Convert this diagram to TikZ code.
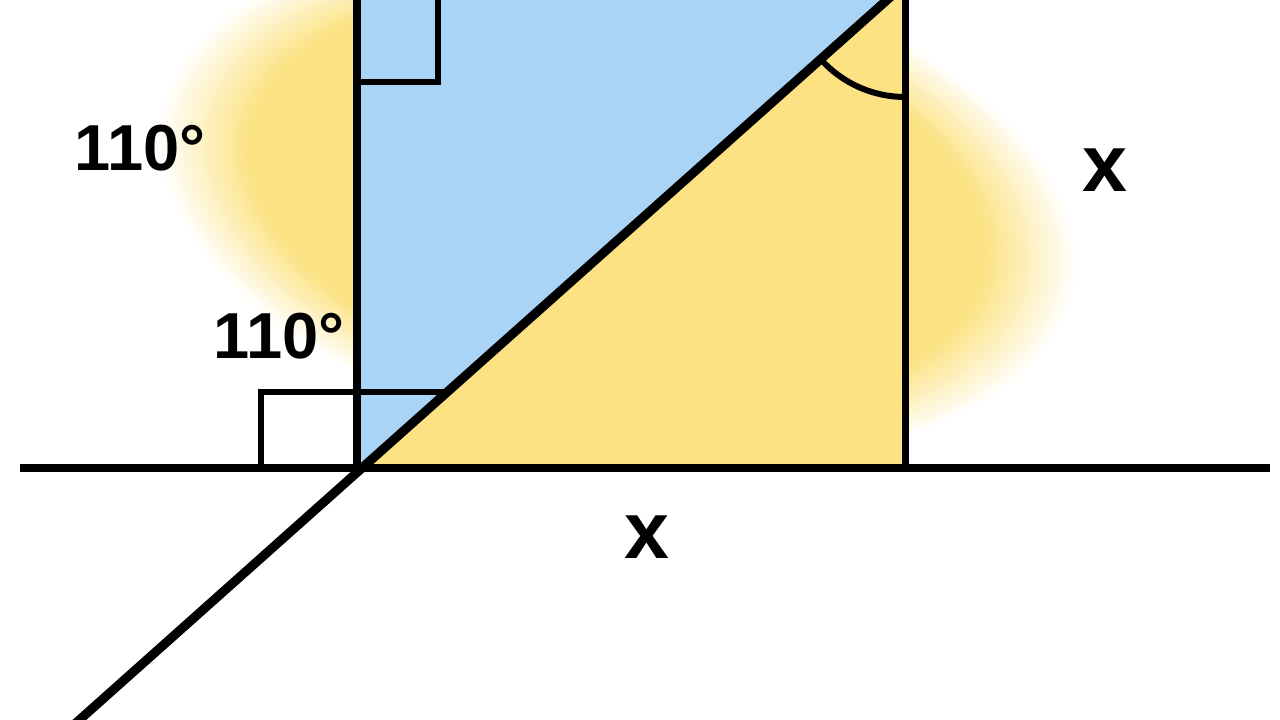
\documentclass[tikz,border=0pt]{standalone}
\usepackage{fontspec}
\setmainfont{Liberation Sans}
\usetikzlibrary{calc}

\definecolor{skyblue}{HTML}{AAD4F6}
\definecolor{sunyellow}{HTML}{FCE282}
\pgfdeclareradialshading{glow}{\pgfpoint{0bp}{0bp}}{color(0bp)=(sunyellow); color(19.5bp)=(sunyellow); color(24.5bp)=(white); color(50bp)=(white)}

\begin{document}
\begin{tikzpicture}[
    anglabel/.style={font=\bfseries\fontsize{18.5}{20}\selectfont, inner sep=0pt},
    sidelabel/.style={font=\bfseries\fontsize{23}{25}\selectfont, inner sep=0pt}
  ]

            \useasboundingbox (0,0) rectangle (12.8,7.2);
            \clip (0,0) rectangle (12.8,7.2);

            %glow
            \begin{scope}[transform canvas={rotate around={-11:(6.17,5.2)}}]
              \shade[shading=glow] (6.17,5.2) ellipse (4.75 and 2.55);
            \end{scope}

            \coordinate (O) at (3.62,2.52);
            \coordinate (T) at (8.87,7.2);

            % Blue part and yellow triangle:
            \fill[skyblue] (3.57,2.52) -- (O) -- (T) -- (3.57,7.3) -- cycle;
            \fill[sunyellow] (O) -- (9.05,2.52) -- (9.05,7.3) -- (T) -- cycle;

            %right angles
            \draw[line width=1.7pt] (3.57,6.38) -- (4.38,6.38) -- (4.38,7.3);
            \draw[line width=1.7pt] (2.61,2.52) -- (2.61,3.28) -- (4.47,3.28);

            %angle
            \draw[line width=1.7pt] (9.05,6.23) arc[start angle=270, end angle=221.7, radius=1.13];

            %walls and ground
            \draw[line width=2pt] (3.57,2.52) -- (3.57,7.3);
            \draw[line width=2pt] (9.05,2.52) -- (9.05,7.3);
            \draw[line width=2.3pt] (0.2,2.52) -- (12.7,2.52);

            %transversal
            \draw[line width=2.6pt] ($(O)!-0.6!(T)$) -- ($(O)!1.05!(T)$);

            %labels
            \node[anglabel] (ang1) at (1.40,5.72) {110°};
            \node[anglabel] (ang2) at (2.79,3.835) {110°};
            \node[sidelabel] (side1) at (11.045,5.495) {x};
            \node[sidelabel] (side2) at (6.47,1.825) {x};
        \end{tikzpicture}
\end{document}
